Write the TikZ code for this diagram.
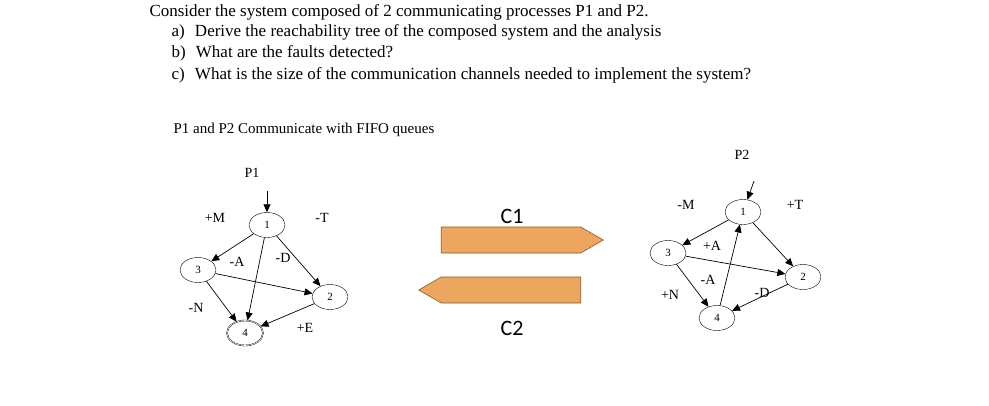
\documentclass[tikz,border=0pt]{standalone}
\usepackage{fontspec}
\setmainfont{Liberation Serif}
\newfontfamily\carlitofam{Carlito}
\usetikzlibrary{arrows.meta,shapes.arrows,shapes.geometric}
\begin{document}
\begin{tikzpicture}[x=1pt,y=-1pt,
  st/.style={draw,ellipse,minimum width=36pt,minimum height=25pt,inner sep=0pt,font=\fontsize{11}{11}\selectfont},
  ed/.style={-{Triangle[length=8pt,width=7pt]},line width=0.7pt},
  lb/.style={font=\fontsize{14}{14}\selectfont},
  tx/.style={anchor=west,font=\fontsize{17}{18}\selectfont},
  big/.style={single arrow,draw=brown!70!black,fill=orange!60!brown!70,line width=0.6pt,minimum height=162pt,minimum width=26pt,single arrow head extend=0pt,inner sep=5pt,single arrow tip angle=60}]
\useasboundingbox (0,0) rectangle (989,405);
\fill[white] (0,0) rectangle (989,405);
\node[tx] (t0) at (146,12) {Consider the system composed of 2 communicating processes P1 and P2.};
\node[tx] (ta) at (168,32) {a)\hspace{6pt} Derive the reachability tree of the composed system and the analysis};
\node[tx] (tb) at (168,53) {b)\hspace{6pt} What are the faults detected?};
\node[tx] (tc) at (168,75) {c)\hspace{6pt} What is the size of the communication channels needed to implement the system?};
\node[anchor=west,font=\fontsize{15}{15}\selectfont] (tf) at (170,130) {P1 and P2 Communicate with FIFO queues};
% P1
\node[lb] (p1) at (252,173) {P1};
\node[st] (a1) at (267,225) {1};
\node[st] (a3) at (198,270) {3};
\node[st] (a2) at (330,297) {2};
\node[st,double] (a4) at (245,333) {4};
\coordinate (ai) at (267,191);
\draw[ed] (ai) -- (a1);
\draw[ed] (a1) -- (a3);
\draw[ed] (a1) -- (a2);
\draw[ed] (a1) -- (a4);
\draw[ed] (a3) -- (a2);
\draw[ed] (a3) -- (a4);
\draw[ed] (a2) -- (a4);
\node[lb] (l1) at (215,218) {+M};
\node[lb] (l2) at (322,218) {-T};
\node[lb] (l3) at (237,262) {-A};
\node[lb] (l4) at (283,258) {-D};
\node[lb] (l5) at (196,308) {-N};
\node[lb] (l6) at (305,328) {+E};
% arrows
\node[big] (c1a) at (511,240) {};
\node[big,shape border rotate=180] (c2a) at (511,290) {};
\node[font=\carlitofam\fontsize{22}{22}\selectfont] (c1) at (512,216) {C1};
\node[font=\carlitofam\fontsize{22}{22}\selectfont] (c2) at (512,328) {C2};
% P2
\node[lb] (p2) at (742,155) {P2};
\node[st] (b1) at (743,212) {1};
\node[st] (b3) at (668,253) {3};
\node[st] (b2) at (803,277) {2};
\node[st] (b4) at (717,318) {4};
\coordinate (bi) at (754,181);
\draw[ed] (bi) -- (b1);
\draw[ed] (b1) -- (b3);
\draw[ed] (b1) -- (b2);
\draw[ed] (b3) -- (b2);
\draw[ed] (b3) -- (b4);
\draw[ed] (b4) -- (b1);
\draw[ed] (b2) -- (b4);
\node[lb] (m1) at (686,205) {-M};
\node[lb] (m2) at (795,205) {+T};
\node[lb] (m3) at (712,246) {+A};
\node[lb] (m4) at (708,280) {-A};
\node[lb] (m5) at (670,295) {+N};
\node[lb] (m6) at (762,293) {-D};
\end{tikzpicture}
\end{document}
